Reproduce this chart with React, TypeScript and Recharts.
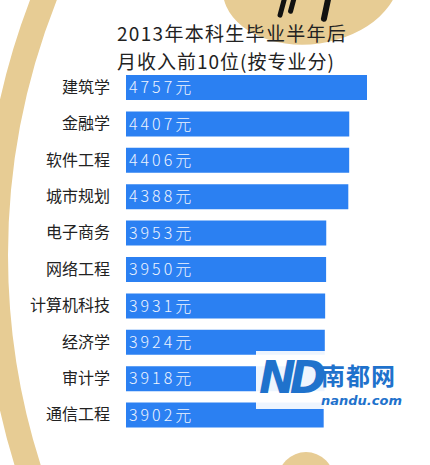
import React from 'react';
import { BarChart, Bar, XAxis, YAxis, LabelList } from 'recharts';

const majors = ['建筑学', '金融学', '软件工程', '城市规划', '电子商务', '网络工程', '计算机科技', '经济学', '审计学', '通信工程'];
const incomes = [4757, 4407, 4406, 4388, 3953, 3950, 3931, 3924, 3918, 3902];
const titleLines = ['2013年本科生毕业半年后', '月收入前10位(按专业分)'];
const unit = '元';

const data = majors.map((m, i) => ({ major: m, income: incomes[i] }));

const BEIGE = '#e7cc94';
const BLUE = '#2b80f2';
const LOGO = '#1f72cc';

export default function App() {
  return (
    <div style={{ position: 'fixed', left: 0, top: 0, width: 430, height: 465, overflow: 'hidden', background: '#fff' }}>
      {/* left arc */}
      <div style={{ position: 'absolute', left: -17, top: 255 - 715, width: 1430, height: 1430, borderRadius: '50%', border: `25px solid ${BEIGE}`, boxSizing: 'border-box' }} />
      {/* top-right blob */}
      <div style={{ position: 'absolute', left: 222, top: -80, width: 178, height: 124, borderRadius: '50%', background: BEIGE, transform: 'rotate(-8deg)' }} />
      <div style={{ position: 'absolute', left: 280, top: -6, width: 5, height: 24, background: '#111', borderRadius: 3, transform: 'rotate(15deg)' }} />
      <div style={{ position: 'absolute', left: 290, top: -6, width: 5, height: 20, background: '#111', borderRadius: 3, transform: 'rotate(15deg)' }} />
      <div style={{ position: 'absolute', left: 323, top: -4, width: 6, height: 26, background: '#111', borderRadius: 3, transform: 'rotate(12deg)' }} />
      {/* bottom blob */}
      <div style={{ position: 'absolute', left: 278, top: 452, width: 56, height: 56, borderRadius: '50%', background: BEIGE }} />

      {/* title */}
      {titleLines.map((t, i) => (
        <div
          key={t}
          style={{ position: 'absolute', left: 117, top: i === 0 ? 23 : 50.6, fontFamily: '"Noto Sans CJK SC"', fontSize: 19, lineHeight: '19px', color: '#222', letterSpacing: i === 0 ? 1.3 : 1, whiteSpace: 'pre' }}
        >
          {t}
        </div>
      ))}

      <div style={{ position: 'absolute', left: 0, top: 0 }}>
        <BarChart
          width={430}
          height={465}
          data={data}
          layout="vertical"
          margin={{ top: 69, right: 63, bottom: 32, left: 0 }}
        >
          <XAxis type="number" domain={[0, 4757]} hide />
          <YAxis
            type="category"
            dataKey="major"
            width={126}
            axisLine={false}
            tickLine={false}
            tickSize={0}
            tickMargin={16}
            tick={{ fill: '#222', fontSize: 16, fontFamily: '"Noto Sans CJK SC"' }}
          />
          <Bar dataKey="income" fill={BLUE} barSize={25} isAnimationActive={false}>
            <LabelList
              dataKey="income"
              position="insideLeft"
              offset={3}
              formatter={(v: any) => `${v}${unit}`}
              style={{ fill: '#eef4ff', fontSize: 16, letterSpacing: 3, fontFamily: '"Noto Sans CJK SC"', fontWeight: 300 }}
            />
          </Bar>
        </BarChart>
      </div>

      {/* watermark */}
      <div style={{ position: 'absolute', left: 256, top: 351, width: 156, height: 58, background: 'rgba(255,255,255,0.92)' }} />
      <div style={{ position: 'absolute', left: 259, top: 352, fontFamily: '"DejaVu Sans"', fontWeight: 'bold', fontStyle: 'italic', fontSize: 44, color: LOGO, letterSpacing: -6, lineHeight: '52px' }}>ND</div>
      <div style={{ position: 'absolute', left: 321, top: 363, fontFamily: '"Noto Sans CJK SC"', fontWeight: 'bold', fontSize: 24, color: LOGO, lineHeight: '24px', letterSpacing: 1 }}>南都网</div>
      <div style={{ position: 'absolute', left: 321, top: 394, fontFamily: '"DejaVu Sans"', fontWeight: 'bold', fontStyle: 'italic', fontSize: 13, color: LOGO, lineHeight: '13px' }}>nandu.com</div>
    </div>
  );
}
